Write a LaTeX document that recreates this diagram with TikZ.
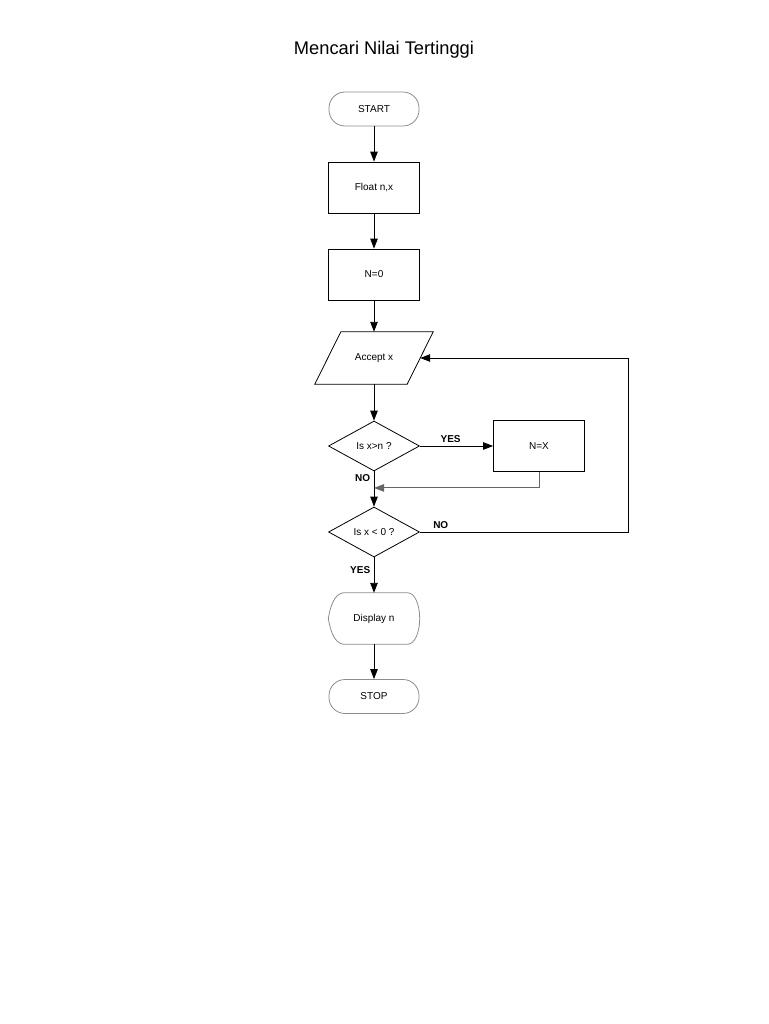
\documentclass[tikz,border=0pt]{standalone}
\usepackage{fontspec}
\setmainfont{Liberation Sans}
\usetikzlibrary{shapes.geometric,arrows.meta,calc}

\begin{document}
\begin{tikzpicture}[x=1pt, y=1pt, node distance=80pt, font=\fontsize{10}{12}\selectfont,
  block/.style={rectangle, draw, line width=0.8pt, minimum height=51pt, minimum width=91pt},
  term/.style={rectangle, draw=black!45, line width=0.8pt, rounded corners=16pt, minimum height=34pt, minimum width=90pt},
  decision/.style={diamond, draw, line width=0.8pt, aspect=1.82, inner sep=0pt, minimum width=91pt, minimum height=50pt},
  plain/.style={rectangle, minimum height=52pt, minimum width=92pt},
  line/.style={draw, line width=0.9pt, -{Triangle[length=10pt,width=7.5pt]}},
  tag/.style={font=\fontsize{10}{12}\selectfont\bfseries}]
  \useasboundingbox (0,0) rectangle (768,-1024);
  \node (title) at (384,-50) {\fontsize{18.3}{22}\selectfont Mencari Nilai Tertinggi};

  \node[term] (start) at (374,-109) {START};
  \node[block, below of=start, node distance=78.5pt] (float) {Float n,x};
  \node[block, below of=float, node distance=87pt] (init) {N=0};
  \node[plain, below of=init, node distance=83.5pt] (accept) {Accept x};
  \node[decision, below of=accept, node distance=88pt] (bigger) {Is x>n ?};
  \node[block, right of=bigger, node distance=165pt] (assign) {N=X};
  \node[decision, below of=bigger, node distance=86pt] (negative) {Is x < 0 ?};
  \node[plain, minimum height=51pt, minimum width=91pt, below of=negative, node distance=86.5pt] (display) {Display n};
  \node[term, below of=display, node distance=78pt] (stop) {STOP};
  \node[coordinate, right of=negative, node distance=254.5pt] (loop) {};

  % input parallelogram
  \draw[line width=0.8pt] ($(accept.south west)+(-13,0)$) -- ($(accept.north west)+(13,0)$)
    -- ($(accept.north east)+(13,0)$) -- ($(accept.south east)+(-13,0)$) -- cycle;
  % display outline
  \draw[black!45, line width=0.8pt] ($(display.north west)+(15,0)$) -- ($(display.north east)+(-12,0)$)
    .. controls ($(display.north east)+(-5,0)$) and ($(display.east)+(0,14)$) .. (display.east)
    .. controls ($(display.east)+(0,-14)$) and ($(display.south east)+(-5,0)$) .. ($(display.south east)+(-12,0)$)
    -- ($(display.south west)+(15,0)$)
    .. controls ($(display.south west)+(6,1)$) and ($(display.west)+(2,-12)$) .. (display.west)
    .. controls ($(display.west)+(2,12)$) and ($(display.north west)+(6,-1)$) .. ($(display.north west)+(15,0)$);

  \draw[line] (start) -- (float);
  \draw[line] (float) -- (init);
  \draw[line] (init) -- (accept);
  \draw[line] (accept) -- (bigger);
  \draw[line] (bigger) -- node[tag, above, pos=0.42] {YES} (assign);
  \draw[line] (bigger) -- node[coordinate, pos=0.47] (join) {} node[tag, left, pos=0.2] {NO} (negative);
  \draw[line, black!60] (assign) |- (join);
  \draw[line] (negative) -- node[tag, above, pos=0.1] {NO} (loop) |- (accept);
  \draw[line] (negative) -- node[tag, left, pos=0.36] {YES} (display);
  \draw[line] (display) -- (stop);

\end{tikzpicture}
\end{document}
